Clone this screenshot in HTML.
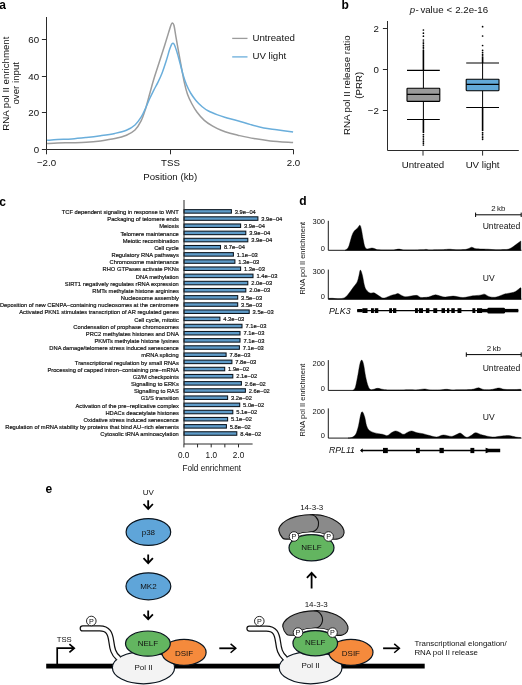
<!DOCTYPE html>
<html lang="en">
<head>
<meta charset="utf-8">
<title>Figure: RNA pol II enrichment after UV light</title>
<style>
html,body{margin:0;padding:0;background:#fff;}
body{width:522px;height:685px;overflow:hidden;}
svg{display:block;font-family:"Liberation Sans", sans-serif;}
</style>
</head>
<body>
<svg width="522" height="685" viewBox="0 0 522 685">
<rect width="522" height="685" fill="#fff"/>
<g id="panel-a">
<text x="-0.70" y="8.60" font-size="12" font-weight="bold" fill="#000">a</text>
<path d="M47.10,143.60C48.83,143.48 53.38,143.05 57.50,142.90C61.62,142.75 67.02,142.80 71.80,142.70C76.58,142.60 81.40,142.60 86.20,142.30C91.00,142.00 95.82,141.52 100.60,140.90C105.38,140.28 110.60,139.55 114.90,138.60C119.20,137.65 123.05,136.63 126.40,135.20C129.75,133.77 132.55,132.38 135.00,130.00C137.45,127.62 139.38,124.28 141.10,120.90C142.82,117.52 143.90,114.10 145.30,109.70C146.70,105.30 148.10,99.53 149.50,94.50C150.90,89.47 152.12,84.75 153.70,79.50C155.28,74.25 157.23,68.48 159.00,63.00C160.77,57.52 162.72,51.62 164.30,46.60C165.88,41.58 167.38,36.50 168.50,32.90C169.62,29.30 170.33,26.65 171.00,25.00C171.67,23.35 172.00,22.92 172.50,23.00C173.00,23.08 173.45,23.32 174.00,25.50C174.55,27.68 175.13,32.23 175.80,36.10C176.47,39.97 177.12,43.78 178.00,48.70C178.88,53.62 180.05,59.98 181.10,65.60C182.15,71.22 183.25,77.67 184.30,82.40C185.35,87.13 186.17,90.48 187.40,94.00C188.63,97.52 190.12,100.50 191.70,103.50C193.28,106.50 194.80,109.18 196.90,112.00C199.00,114.82 201.67,118.03 204.30,120.40C206.93,122.77 209.88,124.55 212.70,126.20C215.52,127.85 218.32,129.12 221.20,130.30C224.08,131.48 227.25,132.48 230.00,133.30C232.75,134.12 233.70,134.32 237.70,135.20C241.70,136.08 248.57,137.65 254.00,138.60C259.43,139.55 263.78,140.25 270.30,140.90C276.82,141.55 289.30,142.23 293.10,142.50" fill="none" stroke="#9c9c9c" stroke-width="1.5" stroke-linejoin="round"/>
<path d="M47.10,140.30C48.83,140.17 53.38,139.73 57.50,139.50C61.62,139.27 67.02,139.23 71.80,138.90C76.58,138.57 81.40,138.03 86.20,137.50C91.00,136.97 95.82,136.38 100.60,135.70C105.38,135.02 110.60,134.30 114.90,133.40C119.20,132.50 123.05,131.70 126.40,130.30C129.75,128.90 132.55,127.18 135.00,125.00C137.45,122.82 139.38,119.92 141.10,117.20C142.82,114.48 143.90,111.73 145.30,108.70C146.70,105.67 148.10,102.07 149.50,99.00C150.90,95.93 152.30,93.07 153.70,90.30C155.10,87.53 156.50,85.28 157.90,82.40C159.30,79.52 160.68,76.68 162.10,73.00C163.52,69.32 165.17,64.17 166.40,60.30C167.63,56.43 168.63,52.47 169.50,49.80C170.37,47.13 171.03,45.40 171.60,44.30C172.17,43.20 172.43,43.13 172.90,43.20C173.37,43.27 173.73,43.25 174.40,44.70C175.07,46.15 175.95,48.77 176.90,51.90C177.85,55.03 179.05,59.63 180.10,63.50C181.15,67.37 182.15,71.60 183.20,75.10C184.25,78.60 185.17,81.52 186.40,84.50C187.63,87.48 189.02,90.35 190.60,93.00C192.18,95.65 193.97,98.12 195.90,100.40C197.83,102.68 200.10,104.93 202.20,106.70C204.30,108.47 206.05,109.68 208.50,111.00C210.95,112.32 214.20,113.57 216.90,114.60C219.60,115.63 221.23,116.18 224.70,117.20C228.17,118.22 233.37,119.47 237.70,120.70C242.03,121.93 246.35,123.40 250.70,124.60C255.05,125.80 259.45,127.03 263.80,127.90C268.15,128.77 271.92,129.10 276.80,129.80C281.68,130.50 290.38,131.72 293.10,132.10" fill="none" stroke="#6aaedb" stroke-width="1.5" stroke-linejoin="round"/>
<path d="M46.5,17.0V149.5H293.5" fill="none" stroke="#2b2b2b" stroke-width="1"/>
<line x1="41.90" y1="149.50" x2="46.50" y2="149.50" stroke="#2b2b2b" stroke-width="1"/>
<text x="39.10" y="153.00" font-size="9.7" text-anchor="end" fill="#111">0</text>
<line x1="41.90" y1="112.50" x2="46.50" y2="112.50" stroke="#2b2b2b" stroke-width="1"/>
<text x="39.10" y="116.00" font-size="9.7" text-anchor="end" fill="#111">20</text>
<line x1="41.90" y1="76.50" x2="46.50" y2="76.50" stroke="#2b2b2b" stroke-width="1"/>
<text x="39.10" y="80.00" font-size="9.7" text-anchor="end" fill="#111">40</text>
<line x1="41.90" y1="39.50" x2="46.50" y2="39.50" stroke="#2b2b2b" stroke-width="1"/>
<text x="39.10" y="43.00" font-size="9.7" text-anchor="end" fill="#111">60</text>
<line x1="46.50" y1="149.50" x2="46.50" y2="154.30" stroke="#2b2b2b" stroke-width="1"/>
<text x="46.50" y="166.20" font-size="9.7" text-anchor="middle" fill="#111">−2.0</text>
<line x1="170.50" y1="149.50" x2="170.50" y2="154.30" stroke="#2b2b2b" stroke-width="1"/>
<text x="170.50" y="166.20" font-size="9.7" text-anchor="middle" fill="#111">TSS</text>
<line x1="293.50" y1="149.50" x2="293.50" y2="154.30" stroke="#2b2b2b" stroke-width="1"/>
<text x="293.50" y="166.20" font-size="9.7" text-anchor="middle" fill="#111">2.0</text>
<text x="170.20" y="179.50" font-size="9.7" text-anchor="middle" fill="#111">Position (kb)</text>
<text x="8.70" y="83.70" font-size="9.7" text-anchor="middle" fill="#111" transform="rotate(-90 8.70 83.70)">RNA pol II enrichment</text>
<text x="19.20" y="83.30" font-size="9.7" text-anchor="middle" fill="#111" transform="rotate(-90 19.20 83.30)">over input</text>
<line x1="232.20" y1="38.40" x2="247.50" y2="38.40" stroke="#9c9c9c" stroke-width="1.3"/>
<line x1="232.20" y1="56.90" x2="247.50" y2="56.90" stroke="#6aaedb" stroke-width="1.3"/>
<text x="252.40" y="40.80" font-size="9.7" fill="#111">Untreated</text>
<text x="252.40" y="59.00" font-size="9.7" fill="#111">UV light</text>
</g>
<g id="panel-b">
<text x="341.50" y="8.60" font-size="12" font-weight="bold" fill="#000">b</text>
<text x="409.80" y="13.40" font-size="9.7" font-style="italic" fill="#111">p</text>
<text x="415.50" y="13.40" font-size="9.7" fill="#111">-</text>
<text x="420.40" y="13.40" font-size="9.7" fill="#111">value</text>
<text x="446.50" y="13.40" font-size="9.7" fill="#111">&lt;</text>
<text x="455.20" y="13.40" font-size="9.7" fill="#111">2.2e-16</text>
<path d="M387.5,21V150.5H518.8" fill="none" stroke="#2b2b2b" stroke-width="1"/>
<line x1="382.90" y1="28.50" x2="387.50" y2="28.50" stroke="#2b2b2b" stroke-width="1"/>
<text x="378.90" y="32.00" font-size="9.7" text-anchor="end" fill="#111">2</text>
<line x1="382.90" y1="69.50" x2="387.50" y2="69.50" stroke="#2b2b2b" stroke-width="1"/>
<text x="378.90" y="73.00" font-size="9.7" text-anchor="end" fill="#111">0</text>
<line x1="382.90" y1="110.50" x2="387.50" y2="110.50" stroke="#2b2b2b" stroke-width="1"/>
<text x="378.90" y="114.00" font-size="9.7" text-anchor="end" fill="#111">−2</text>
<line x1="423.00" y1="150.50" x2="423.00" y2="155.60" stroke="#2b2b2b" stroke-width="1"/>
<text x="423.00" y="168.20" font-size="9.7" text-anchor="middle" fill="#111">Untreated</text>
<line x1="482.60" y1="150.50" x2="482.60" y2="155.60" stroke="#2b2b2b" stroke-width="1"/>
<text x="482.60" y="168.20" font-size="9.7" text-anchor="middle" fill="#111">UV light</text>
<text x="350.20" y="85.20" font-size="9.7" text-anchor="middle" fill="#111" transform="rotate(-90 350.20 85.20)">RNA pol II release ratio</text>
<text x="361.80" y="85.20" font-size="9.7" text-anchor="middle" fill="#111" transform="rotate(-90 361.80 85.20)">(PRR)</text>
<line x1="423.40" y1="70.40" x2="423.40" y2="88.30" stroke="#000" stroke-width="1.0"/>
<line x1="423.40" y1="101.40" x2="423.40" y2="119.50" stroke="#000" stroke-width="1.0"/>
<line x1="423.40" y1="50.00" x2="423.40" y2="70.40" stroke="#000" stroke-width="1.6"/>
<line x1="423.40" y1="119.50" x2="423.40" y2="133.00" stroke="#000" stroke-width="1.6"/>
<circle cx="423.4" cy="30.0" r="0.85" fill="#000"/>
<circle cx="423.4" cy="33.2" r="0.85" fill="#000"/>
<circle cx="423.4" cy="36.2" r="0.85" fill="#000"/>
<circle cx="423.4" cy="40.0" r="0.85" fill="#000"/>
<circle cx="423.4" cy="42.0" r="0.85" fill="#000"/>
<circle cx="423.4" cy="43.7" r="0.85" fill="#000"/>
<circle cx="423.4" cy="45.5" r="0.85" fill="#000"/>
<circle cx="423.4" cy="47.2" r="0.85" fill="#000"/>
<circle cx="423.4" cy="48.8" r="0.85" fill="#000"/>
<circle cx="423.4" cy="134.5" r="0.85" fill="#000"/>
<circle cx="423.4" cy="136.3" r="0.85" fill="#000"/>
<circle cx="423.4" cy="138.0" r="0.85" fill="#000"/>
<circle cx="423.4" cy="139.8" r="0.85" fill="#000"/>
<circle cx="423.4" cy="141.5" r="0.85" fill="#000"/>
<circle cx="423.4" cy="143.2" r="0.85" fill="#000"/>
<circle cx="423.4" cy="145.0" r="0.85" fill="#000"/>
<line x1="407.00" y1="70.40" x2="439.80" y2="70.40" stroke="#000" stroke-width="1.1"/>
<line x1="407.00" y1="119.50" x2="439.80" y2="119.50" stroke="#000" stroke-width="1.1"/>
<rect x="407.0" y="88.3" width="32.8" height="13.1" rx="0.6" fill="#9b9b9b" stroke="#000" stroke-width="1.1"/>
<line x1="407.00" y1="94.40" x2="439.80" y2="94.40" stroke="#000" stroke-width="1.2"/>
<line x1="482.60" y1="63.00" x2="482.60" y2="79.20" stroke="#000" stroke-width="1.0"/>
<line x1="482.60" y1="90.70" x2="482.60" y2="107.50" stroke="#000" stroke-width="1.0"/>
<line x1="482.60" y1="57.00" x2="482.60" y2="63.00" stroke="#000" stroke-width="1.6"/>
<line x1="482.60" y1="107.50" x2="482.60" y2="131.00" stroke="#000" stroke-width="1.6"/>
<circle cx="482.6" cy="26.7" r="0.85" fill="#000"/>
<circle cx="482.6" cy="36.0" r="0.85" fill="#000"/>
<circle cx="482.6" cy="45.5" r="0.85" fill="#000"/>
<circle cx="482.6" cy="50.4" r="0.85" fill="#000"/>
<circle cx="482.6" cy="52.5" r="0.85" fill="#000"/>
<circle cx="482.6" cy="54.4" r="0.85" fill="#000"/>
<circle cx="482.6" cy="55.9" r="0.85" fill="#000"/>
<circle cx="482.6" cy="132.5" r="0.85" fill="#000"/>
<circle cx="482.6" cy="134.2" r="0.85" fill="#000"/>
<circle cx="482.6" cy="136.0" r="0.85" fill="#000"/>
<circle cx="482.6" cy="137.7" r="0.85" fill="#000"/>
<circle cx="482.6" cy="139.3" r="0.85" fill="#000"/>
<line x1="466.20" y1="63.00" x2="499.00" y2="63.00" stroke="#000" stroke-width="1.1"/>
<line x1="466.20" y1="107.50" x2="499.00" y2="107.50" stroke="#000" stroke-width="1.1"/>
<rect x="466.2" y="79.2" width="32.8" height="11.5" rx="0.6" fill="#62a9d8" stroke="#000" stroke-width="1.1"/>
<line x1="466.20" y1="84.40" x2="499.00" y2="84.40" stroke="#000" stroke-width="1.2"/>
</g>
<g id="panel-c">
<text x="-0.70" y="205.60" font-size="12" font-weight="bold" fill="#000">c</text>
<rect x="184.0" y="209.65" width="47.4" height="3.5" fill="#5e9bc8" stroke="#0b141d" stroke-width="1.05"/>
<text x="178.80" y="214.10" font-size="5.78" text-anchor="end" fill="#111" stroke="#111" stroke-width="0.18">TCF dependent signaling in response to WNT</text>
<text x="234.80" y="213.55" font-size="5.78" fill="#111" stroke="#111" stroke-width="0.18">3.9e−04</text>
<rect x="184.0" y="216.81" width="73.9" height="3.5" fill="#5e9bc8" stroke="#0b141d" stroke-width="1.05"/>
<text x="178.80" y="221.26" font-size="5.78" text-anchor="end" fill="#111" stroke="#111" stroke-width="0.18">Packaging of telomere ends</text>
<text x="261.30" y="220.72" font-size="5.78" fill="#111" stroke="#111" stroke-width="0.18">3.9e−04</text>
<rect x="184.0" y="223.98" width="56.6" height="3.5" fill="#5e9bc8" stroke="#0b141d" stroke-width="1.05"/>
<text x="178.80" y="228.43" font-size="5.78" text-anchor="end" fill="#111" stroke="#111" stroke-width="0.18">Meiosis</text>
<text x="244.00" y="227.88" font-size="5.78" fill="#111" stroke="#111" stroke-width="0.18">3.9e−04</text>
<rect x="184.0" y="231.15" width="61.8" height="3.5" fill="#5e9bc8" stroke="#0b141d" stroke-width="1.05"/>
<text x="178.80" y="235.59" font-size="5.78" text-anchor="end" fill="#111" stroke="#111" stroke-width="0.18">Telomere maintenance</text>
<text x="249.20" y="235.05" font-size="5.78" fill="#111" stroke="#111" stroke-width="0.18">3.9e−04</text>
<rect x="184.0" y="238.31" width="63.8" height="3.5" fill="#5e9bc8" stroke="#0b141d" stroke-width="1.05"/>
<text x="178.80" y="242.76" font-size="5.78" text-anchor="end" fill="#111" stroke="#111" stroke-width="0.18">Meiotic recombination</text>
<text x="251.20" y="242.21" font-size="5.78" fill="#111" stroke="#111" stroke-width="0.18">3.9e−04</text>
<rect x="184.0" y="245.48" width="36.5" height="3.5" fill="#5e9bc8" stroke="#0b141d" stroke-width="1.05"/>
<text x="178.80" y="249.93" font-size="5.78" text-anchor="end" fill="#111" stroke="#111" stroke-width="0.18">Cell cycle</text>
<text x="223.90" y="249.38" font-size="5.78" fill="#111" stroke="#111" stroke-width="0.18">8.7e−04</text>
<rect x="184.0" y="252.64" width="49.4" height="3.5" fill="#5e9bc8" stroke="#0b141d" stroke-width="1.05"/>
<text x="178.80" y="257.09" font-size="5.78" text-anchor="end" fill="#111" stroke="#111" stroke-width="0.18">Regulatory RNA pathways</text>
<text x="236.80" y="256.54" font-size="5.78" fill="#111" stroke="#111" stroke-width="0.18">1.1e−03</text>
<rect x="184.0" y="259.81" width="50.9" height="3.5" fill="#5e9bc8" stroke="#0b141d" stroke-width="1.05"/>
<text x="178.80" y="264.25" font-size="5.78" text-anchor="end" fill="#111" stroke="#111" stroke-width="0.18">Chromosome maintenance</text>
<text x="238.30" y="263.70" font-size="5.78" fill="#111" stroke="#111" stroke-width="0.18">1.3e−03</text>
<rect x="184.0" y="266.97" width="56.6" height="3.5" fill="#5e9bc8" stroke="#0b141d" stroke-width="1.05"/>
<text x="178.80" y="271.42" font-size="5.78" text-anchor="end" fill="#111" stroke="#111" stroke-width="0.18">RHO GTPases activate PKNs</text>
<text x="244.00" y="270.87" font-size="5.78" fill="#111" stroke="#111" stroke-width="0.18">1.3e−03</text>
<rect x="184.0" y="274.13" width="69.0" height="3.5" fill="#5e9bc8" stroke="#0b141d" stroke-width="1.05"/>
<text x="178.80" y="278.58" font-size="5.78" text-anchor="end" fill="#111" stroke="#111" stroke-width="0.18">DNA methylation</text>
<text x="256.40" y="278.03" font-size="5.78" fill="#111" stroke="#111" stroke-width="0.18">1.4e−03</text>
<rect x="184.0" y="281.30" width="63.8" height="3.5" fill="#5e9bc8" stroke="#0b141d" stroke-width="1.05"/>
<text x="178.80" y="285.75" font-size="5.78" text-anchor="end" fill="#111" stroke="#111" stroke-width="0.18">SIRT1 negatively regulates rRNA expression</text>
<text x="251.20" y="285.20" font-size="5.78" fill="#111" stroke="#111" stroke-width="0.18">2.0e−03</text>
<rect x="184.0" y="288.47" width="61.8" height="3.5" fill="#5e9bc8" stroke="#0b141d" stroke-width="1.05"/>
<text x="178.80" y="292.92" font-size="5.78" text-anchor="end" fill="#111" stroke="#111" stroke-width="0.18">RMTs methylate histone arginines</text>
<text x="249.20" y="292.37" font-size="5.78" fill="#111" stroke="#111" stroke-width="0.18">2.0e−03</text>
<rect x="184.0" y="295.63" width="53.7" height="3.5" fill="#5e9bc8" stroke="#0b141d" stroke-width="1.05"/>
<text x="178.80" y="300.08" font-size="5.78" text-anchor="end" fill="#111" stroke="#111" stroke-width="0.18">Nucleosome assembly</text>
<text x="241.10" y="299.53" font-size="5.78" fill="#111" stroke="#111" stroke-width="0.18">3.5e−03</text>
<rect x="184.0" y="302.80" width="53.7" height="3.5" fill="#5e9bc8" stroke="#0b141d" stroke-width="1.05"/>
<text x="178.80" y="307.25" font-size="5.78" text-anchor="end" fill="#111" stroke="#111" stroke-width="0.18">Deposition of new CENPA−containing nucleosomes at the centromere</text>
<text x="241.10" y="306.69" font-size="5.78" fill="#111" stroke="#111" stroke-width="0.18">3.5e−03</text>
<rect x="184.0" y="309.96" width="65.2" height="3.5" fill="#5e9bc8" stroke="#0b141d" stroke-width="1.05"/>
<text x="178.80" y="314.41" font-size="5.78" text-anchor="end" fill="#111" stroke="#111" stroke-width="0.18">Activated PKN1 stimulates transcription of AR regulated genes</text>
<text x="252.60" y="313.86" font-size="5.78" fill="#111" stroke="#111" stroke-width="0.18">3.5e−03</text>
<rect x="184.0" y="317.12" width="35.9" height="3.5" fill="#5e9bc8" stroke="#0b141d" stroke-width="1.05"/>
<text x="178.80" y="321.57" font-size="5.78" text-anchor="end" fill="#111" stroke="#111" stroke-width="0.18">Cell cycle, mitotic</text>
<text x="223.30" y="321.02" font-size="5.78" fill="#111" stroke="#111" stroke-width="0.18">4.3e−03</text>
<rect x="184.0" y="324.29" width="58.0" height="3.5" fill="#5e9bc8" stroke="#0b141d" stroke-width="1.05"/>
<text x="178.80" y="328.74" font-size="5.78" text-anchor="end" fill="#111" stroke="#111" stroke-width="0.18">Condensation of prophase chromosomes</text>
<text x="245.40" y="328.19" font-size="5.78" fill="#111" stroke="#111" stroke-width="0.18">7.1e−03</text>
<rect x="184.0" y="331.46" width="56.0" height="3.5" fill="#5e9bc8" stroke="#0b141d" stroke-width="1.05"/>
<text x="178.80" y="335.91" font-size="5.78" text-anchor="end" fill="#111" stroke="#111" stroke-width="0.18">PRC2 methylates histones and DNA</text>
<text x="243.40" y="335.36" font-size="5.78" fill="#111" stroke="#111" stroke-width="0.18">7.1e−03</text>
<rect x="184.0" y="338.62" width="56.0" height="3.5" fill="#5e9bc8" stroke="#0b141d" stroke-width="1.05"/>
<text x="178.80" y="343.07" font-size="5.78" text-anchor="end" fill="#111" stroke="#111" stroke-width="0.18">PKMTs methylate histone lysines</text>
<text x="243.40" y="342.52" font-size="5.78" fill="#111" stroke="#111" stroke-width="0.18">7.1e−03</text>
<rect x="184.0" y="345.78" width="55.4" height="3.5" fill="#5e9bc8" stroke="#0b141d" stroke-width="1.05"/>
<text x="178.80" y="350.23" font-size="5.78" text-anchor="end" fill="#111" stroke="#111" stroke-width="0.18">DNA damage/telomere stress induced senescence</text>
<text x="242.80" y="349.68" font-size="5.78" fill="#111" stroke="#111" stroke-width="0.18">7.1e−03</text>
<rect x="184.0" y="352.95" width="42.1" height="3.5" fill="#5e9bc8" stroke="#0b141d" stroke-width="1.05"/>
<text x="178.80" y="357.40" font-size="5.78" text-anchor="end" fill="#111" stroke="#111" stroke-width="0.18">mRNA splicing</text>
<text x="229.50" y="356.85" font-size="5.78" fill="#111" stroke="#111" stroke-width="0.18">7.8e−03</text>
<rect x="184.0" y="360.12" width="47.9" height="3.5" fill="#5e9bc8" stroke="#0b141d" stroke-width="1.05"/>
<text x="178.80" y="364.56" font-size="5.78" text-anchor="end" fill="#111" stroke="#111" stroke-width="0.18">Transcriptional regulation by small RNAs</text>
<text x="235.30" y="364.01" font-size="5.78" fill="#111" stroke="#111" stroke-width="0.18">7.8e−03</text>
<rect x="184.0" y="367.28" width="40.7" height="3.5" fill="#5e9bc8" stroke="#0b141d" stroke-width="1.05"/>
<text x="178.80" y="371.73" font-size="5.78" text-anchor="end" fill="#111" stroke="#111" stroke-width="0.18">Processing of capped intron−containing pre−mRNA</text>
<text x="228.10" y="371.18" font-size="5.78" fill="#111" stroke="#111" stroke-width="0.18">1.9e−02</text>
<rect x="184.0" y="374.44" width="48.8" height="3.5" fill="#5e9bc8" stroke="#0b141d" stroke-width="1.05"/>
<text x="178.80" y="378.89" font-size="5.78" text-anchor="end" fill="#111" stroke="#111" stroke-width="0.18">G2/M checkpoints</text>
<text x="236.20" y="378.34" font-size="5.78" fill="#111" stroke="#111" stroke-width="0.18">2.1e−02</text>
<rect x="184.0" y="381.61" width="57.4" height="3.5" fill="#5e9bc8" stroke="#0b141d" stroke-width="1.05"/>
<text x="178.80" y="386.06" font-size="5.78" text-anchor="end" fill="#111" stroke="#111" stroke-width="0.18">Signalling to ERKs</text>
<text x="244.80" y="385.51" font-size="5.78" fill="#111" stroke="#111" stroke-width="0.18">2.6e−02</text>
<rect x="184.0" y="388.77" width="61.4" height="3.5" fill="#5e9bc8" stroke="#0b141d" stroke-width="1.05"/>
<text x="178.80" y="393.22" font-size="5.78" text-anchor="end" fill="#111" stroke="#111" stroke-width="0.18">Signalling to RAS</text>
<text x="248.80" y="392.67" font-size="5.78" fill="#111" stroke="#111" stroke-width="0.18">2.6e−02</text>
<rect x="184.0" y="395.94" width="43.6" height="3.5" fill="#5e9bc8" stroke="#0b141d" stroke-width="1.05"/>
<text x="178.80" y="400.39" font-size="5.78" text-anchor="end" fill="#111" stroke="#111" stroke-width="0.18">G1/S transition</text>
<text x="231.00" y="399.84" font-size="5.78" fill="#111" stroke="#111" stroke-width="0.18">3.2e−02</text>
<rect x="184.0" y="403.11" width="55.7" height="3.5" fill="#5e9bc8" stroke="#0b141d" stroke-width="1.05"/>
<text x="178.80" y="407.56" font-size="5.78" text-anchor="end" fill="#111" stroke="#111" stroke-width="0.18">Activation of the pre−replicative complex</text>
<text x="243.10" y="407.00" font-size="5.78" fill="#111" stroke="#111" stroke-width="0.18">5.0e−02</text>
<rect x="184.0" y="410.27" width="48.8" height="3.5" fill="#5e9bc8" stroke="#0b141d" stroke-width="1.05"/>
<text x="178.80" y="414.72" font-size="5.78" text-anchor="end" fill="#111" stroke="#111" stroke-width="0.18">HDACs deacetylate histones</text>
<text x="236.20" y="414.17" font-size="5.78" fill="#111" stroke="#111" stroke-width="0.18">5.1e−02</text>
<rect x="184.0" y="417.44" width="43.6" height="3.5" fill="#5e9bc8" stroke="#0b141d" stroke-width="1.05"/>
<text x="178.80" y="421.88" font-size="5.78" text-anchor="end" fill="#111" stroke="#111" stroke-width="0.18">Oxidative stress induced senescence</text>
<text x="231.00" y="421.33" font-size="5.78" fill="#111" stroke="#111" stroke-width="0.18">5.1e−02</text>
<rect x="184.0" y="424.60" width="42.4" height="3.5" fill="#5e9bc8" stroke="#0b141d" stroke-width="1.05"/>
<text x="178.80" y="429.05" font-size="5.78" text-anchor="end" fill="#111" stroke="#111" stroke-width="0.18">Regulation of mRNA stability by proteins that bind AU−rich elements</text>
<text x="229.80" y="428.50" font-size="5.78" fill="#111" stroke="#111" stroke-width="0.18">5.8e−02</text>
<rect x="184.0" y="431.76" width="52.8" height="3.5" fill="#5e9bc8" stroke="#0b141d" stroke-width="1.05"/>
<text x="178.80" y="436.21" font-size="5.78" text-anchor="end" fill="#111" stroke="#111" stroke-width="0.18">Cytosolic tRNA aminoacylation</text>
<text x="240.20" y="435.66" font-size="5.78" fill="#111" stroke="#111" stroke-width="0.18">8.4e−02</text>
<path d="M184.0,200V444H252.6" fill="none" stroke="#2b2b2b" stroke-width="1"/>
<line x1="183.90" y1="444.00" x2="183.90" y2="447.40" stroke="#2b2b2b" stroke-width="1"/>
<line x1="197.55" y1="444.00" x2="197.55" y2="447.40" stroke="#2b2b2b" stroke-width="1"/>
<line x1="211.20" y1="444.00" x2="211.20" y2="447.40" stroke="#2b2b2b" stroke-width="1"/>
<line x1="224.85" y1="444.00" x2="224.85" y2="447.40" stroke="#2b2b2b" stroke-width="1"/>
<line x1="238.50" y1="444.00" x2="238.50" y2="447.40" stroke="#2b2b2b" stroke-width="1"/>
<text x="183.60" y="458.30" font-size="8.2" text-anchor="middle" fill="#111">0.0</text>
<text x="211.30" y="458.30" font-size="8.2" text-anchor="middle" fill="#111">1.0</text>
<text x="238.50" y="458.30" font-size="8.2" text-anchor="middle" fill="#111">2.0</text>
<text x="211.80" y="471.00" font-size="8.2" text-anchor="middle" fill="#111">Fold enrichment</text>
</g>
<g id="panel-d">
<text x="299.30" y="205.00" font-size="12" font-weight="bold" fill="#000">d</text>
<line x1="475.60" y1="214.80" x2="521.20" y2="214.80" stroke="#000" stroke-width="1"/>
<line x1="475.60" y1="212.60" x2="475.60" y2="217.00" stroke="#000" stroke-width="1"/>
<line x1="521.20" y1="212.60" x2="521.20" y2="217.00" stroke="#000" stroke-width="1"/>
<text x="498.30" y="210.80" font-size="7.9" text-anchor="middle" fill="#111" word-spacing="-0.7">2 kb</text>
<line x1="466.30" y1="354.60" x2="521.20" y2="354.60" stroke="#000" stroke-width="1"/>
<line x1="466.30" y1="352.40" x2="466.30" y2="356.80" stroke="#000" stroke-width="1"/>
<line x1="521.20" y1="352.40" x2="521.20" y2="356.80" stroke="#000" stroke-width="1"/>
<text x="493.90" y="350.60" font-size="7.9" text-anchor="middle" fill="#111" word-spacing="-0.7">2 kb</text>
<text x="304.90" y="258.20" font-size="7.47" text-anchor="middle" fill="#111" transform="rotate(-90 304.90 258.20)">RNA pol II enrichment</text>
<text x="304.90" y="400.10" font-size="7.47" text-anchor="middle" fill="#111" transform="rotate(-90 304.90 400.10)">RNA pol II enrichment</text>
<path d="M345.1,250.3L345.10,250.30C345.42,250.08 346.35,249.77 347.00,249.00C347.65,248.23 348.20,247.87 349.00,245.70C349.80,243.53 350.95,238.40 351.80,236.00C352.65,233.60 353.13,232.63 354.10,231.30C355.07,229.97 356.63,229.02 357.60,228.00C358.57,226.98 359.27,224.97 359.90,225.20C360.53,225.43 360.83,226.93 361.40,229.40C361.97,231.87 362.73,237.13 363.30,240.00C363.87,242.87 364.22,245.10 364.80,246.60C365.38,248.10 366.02,248.67 366.80,249.00C367.58,249.33 368.63,248.77 369.50,248.60C370.37,248.43 371.08,247.97 372.00,248.00C372.92,248.03 374.05,248.50 375.00,248.80C375.95,249.10 376.03,249.60 377.70,249.80C379.37,250.00 382.28,249.98 385.00,250.00C387.72,250.02 391.70,250.05 394.00,249.90C396.30,249.75 397.30,249.10 398.80,249.10C400.30,249.10 400.80,249.75 403.00,249.90C405.20,250.05 408.83,250.02 412.00,250.00C415.17,249.98 419.67,249.90 422.00,249.80C424.33,249.70 424.67,249.38 426.00,249.40C427.33,249.42 427.67,249.83 430.00,249.90C432.33,249.97 437.33,249.88 440.00,249.80C442.67,249.72 444.33,249.50 446.00,249.40C447.67,249.30 448.33,249.13 450.00,249.20C451.67,249.27 453.67,249.73 456.00,249.80C458.33,249.87 462.00,249.77 464.00,249.60C466.00,249.43 466.70,249.20 468.00,248.80C469.30,248.40 470.63,247.23 471.80,247.20C472.97,247.17 473.63,248.30 475.00,248.60C476.37,248.90 477.83,248.90 480.00,249.00C482.17,249.10 485.33,249.07 488.00,249.20C490.67,249.33 493.33,249.73 496.00,249.80C498.67,249.87 501.83,249.73 504.00,249.60C506.17,249.47 507.50,249.47 509.00,249.00C510.50,248.53 511.67,247.67 513.00,246.80C514.33,245.93 515.70,244.77 517.00,243.80C518.30,242.83 520.17,241.47 520.80,241.00L520.8,250.3Z" fill="#000" stroke="#000" stroke-width="0.4" stroke-linejoin="round"/>
<path d="M328.3,220.8V250.3H521.5" fill="none" stroke="#000" stroke-width="0.9"/>
<text x="325.00" y="224.40" font-size="7.5" text-anchor="end" fill="#111">300</text>
<text x="325.00" y="250.70" font-size="7.5" text-anchor="end" fill="#111">0</text>
<text x="520.40" y="228.60" font-size="8.6" text-anchor="end" fill="#111">Untreated</text>
<path d="M328.6,299.2L328.60,298.40C329.28,298.38 331.13,298.23 332.70,298.30C334.27,298.37 336.08,298.87 338.00,298.80C339.92,298.73 342.53,298.62 344.20,297.90C345.87,297.18 346.42,296.35 348.00,294.50C349.58,292.65 352.17,288.88 353.70,286.80C355.23,284.72 356.32,283.88 357.20,282.00C358.08,280.12 358.47,277.50 359.00,275.50C359.53,273.50 359.83,270.03 360.40,270.00C360.97,269.97 361.75,272.82 362.40,275.30C363.05,277.78 363.67,282.50 364.30,284.90C364.93,287.30 365.25,288.35 366.20,289.70C367.15,291.05 368.72,292.48 370.00,293.00C371.28,293.52 372.62,292.47 373.90,292.80C375.18,293.13 376.27,294.15 377.70,295.00C379.13,295.85 381.07,297.50 382.50,297.90C383.93,298.30 384.87,297.82 386.30,297.40C387.73,296.98 389.65,295.87 391.10,295.40C392.55,294.93 393.88,294.92 395.00,294.60C396.12,294.28 396.70,293.37 397.80,293.50C398.90,293.63 400.32,294.85 401.60,295.40C402.88,295.95 403.90,296.70 405.50,296.80C407.10,296.90 409.28,296.23 411.20,296.00C413.12,295.77 415.40,295.17 417.00,295.40C418.60,295.63 419.00,297.12 420.80,297.40C422.60,297.68 426.02,297.33 427.80,297.10C429.58,296.87 430.20,296.38 431.50,296.00C432.80,295.62 434.18,294.80 435.60,294.80C437.02,294.80 438.37,295.62 440.00,296.00C441.63,296.38 443.20,297.08 445.40,297.10C447.60,297.12 450.27,296.03 453.20,296.10C456.13,296.17 459.73,297.55 463.00,297.50C466.27,297.45 469.97,296.18 472.80,295.80C475.63,295.42 478.05,295.47 480.00,295.20C481.95,294.93 482.93,293.95 484.50,294.20C486.07,294.45 487.45,296.22 489.40,296.70C491.35,297.18 493.77,297.52 496.20,297.10C498.63,296.68 501.87,294.85 504.00,294.20C506.13,293.55 507.37,293.53 509.00,293.20C510.63,292.87 512.47,292.65 513.80,292.20C515.13,291.75 515.97,291.20 517.00,290.50C518.03,289.80 519.33,288.42 520.00,288.00C520.67,287.58 520.83,288.00 521.00,288.00L521.0,299.2Z" fill="#000" stroke="#000" stroke-width="0.4" stroke-linejoin="round"/>
<path d="M328.3,269.6V299.2H521.5" fill="none" stroke="#000" stroke-width="0.9"/>
<text x="325.00" y="274.00" font-size="7.5" text-anchor="end" fill="#111">300</text>
<text x="325.00" y="298.80" font-size="7.5" text-anchor="end" fill="#111">0</text>
<text x="494.80" y="281.10" font-size="8.6" text-anchor="end" fill="#111">UV</text>
<path d="M352.8,390.4L352.80,390.30C353.05,390.12 353.82,389.92 354.30,389.20C354.78,388.48 355.08,388.45 355.70,386.00C356.32,383.55 357.30,378.17 358.00,374.50C358.70,370.83 359.27,366.40 359.90,364.00C360.53,361.60 361.17,359.95 361.80,360.10C362.43,360.25 363.07,362.18 363.70,364.90C364.33,367.62 364.87,372.88 365.60,376.40C366.33,379.92 367.27,383.80 368.10,386.00C368.93,388.20 369.62,389.07 370.60,389.60C371.58,390.13 372.82,389.42 374.00,389.20C375.18,388.98 376.37,388.30 377.70,388.30C379.03,388.30 380.40,388.93 382.00,389.20C383.60,389.47 385.13,389.77 387.30,389.90C389.47,390.03 392.22,390.00 395.00,390.00C397.78,390.00 401.50,389.93 404.00,389.90C406.50,389.87 408.00,389.80 410.00,389.80C412.00,389.80 414.20,389.97 416.00,389.90C417.80,389.83 419.30,389.55 420.80,389.40C422.30,389.25 423.47,388.92 425.00,389.00C426.53,389.08 427.50,389.75 430.00,389.90C432.50,390.05 437.27,390.00 440.00,389.90C442.73,389.80 444.40,389.30 446.40,389.30C448.40,389.30 449.40,389.82 452.00,389.90C454.60,389.98 459.00,389.85 462.00,389.80C465.00,389.75 468.00,389.73 470.00,389.60C472.00,389.47 472.57,389.30 474.00,389.00C475.43,388.70 477.10,387.73 478.60,387.80C480.10,387.87 481.10,389.08 483.00,389.40C484.90,389.72 488.17,389.77 490.00,389.70C491.83,389.63 492.50,389.28 494.00,389.00C495.50,388.72 497.33,387.95 499.00,388.00C500.67,388.05 501.83,389.03 504.00,389.30C506.17,389.57 509.20,389.60 512.00,389.60C514.80,389.60 519.33,389.35 520.80,389.30L520.8,390.4Z" fill="#000" stroke="#000" stroke-width="0.4" stroke-linejoin="round"/>
<path d="M328.3,360.1V390.4H521.5" fill="none" stroke="#000" stroke-width="0.9"/>
<text x="325.00" y="366.10" font-size="7.5" text-anchor="end" fill="#111">200</text>
<text x="325.00" y="390.80" font-size="7.5" text-anchor="end" fill="#111">0</text>
<text x="520.40" y="371.10" font-size="8.6" text-anchor="end" fill="#111">Untreated</text>
<path d="M348.0,438.1L348.00,438.00C348.63,437.90 350.52,438.02 351.80,437.40C353.08,436.78 354.58,436.25 355.70,434.30C356.82,432.35 357.65,429.05 358.50,425.70C359.35,422.35 360.13,416.50 360.80,414.20C361.47,411.90 361.85,411.43 362.50,411.90C363.15,412.37 364.02,414.70 364.70,417.00C365.38,419.30 365.82,423.47 366.60,425.70C367.38,427.93 368.03,429.20 369.40,430.40C370.77,431.60 372.62,432.25 374.80,432.90C376.98,433.55 380.42,433.85 382.50,434.30C384.58,434.75 385.87,435.83 387.30,435.60C388.73,435.37 389.73,433.67 391.10,432.90C392.47,432.13 394.07,431.08 395.50,431.00C396.93,430.92 398.37,431.85 399.70,432.40C401.03,432.95 402.22,434.30 403.50,434.30C404.78,434.30 406.05,432.95 407.40,432.40C408.75,431.85 410.00,430.95 411.60,431.00C413.20,431.05 415.10,432.25 417.00,432.70C418.90,433.15 420.87,433.22 423.00,433.70C425.13,434.18 427.53,435.05 429.80,435.60C432.07,436.15 434.33,437.10 436.60,437.00C438.87,436.90 440.95,435.10 443.40,435.00C445.85,434.90 449.20,436.43 451.30,436.40C453.40,436.37 454.55,435.35 456.00,434.80C457.45,434.25 458.83,433.07 460.00,433.10C461.17,433.13 461.85,434.28 463.00,435.00C464.15,435.72 465.43,437.40 466.90,437.40C468.37,437.40 470.33,435.78 471.80,435.00C473.27,434.22 473.92,432.70 475.70,432.70C477.48,432.70 479.73,434.28 482.50,435.00C485.27,435.72 489.05,436.83 492.30,437.00C495.55,437.17 499.23,436.23 502.00,436.00C504.77,435.77 506.62,435.43 508.90,435.60C511.18,435.77 513.75,436.67 515.70,437.00C517.65,437.33 519.78,437.50 520.60,437.60L520.6,438.1Z" fill="#000" stroke="#000" stroke-width="0.4" stroke-linejoin="round"/>
<path d="M328.3,408.4V438.1H521.5" fill="none" stroke="#000" stroke-width="0.9"/>
<text x="325.00" y="413.60" font-size="7.5" text-anchor="end" fill="#111">200</text>
<text x="325.00" y="437.70" font-size="7.5" text-anchor="end" fill="#111">0</text>
<text x="494.80" y="419.90" font-size="8.6" text-anchor="end" fill="#111">UV</text>
<text x="329.00" y="313.50" font-size="8.8" font-style="italic" fill="#111">PLK3</text>
<line x1="357.20" y1="310.60" x2="518.30" y2="310.60" stroke="#000" stroke-width="1.3"/>
<rect x="357.2" y="309.0" width="5.4" height="3.2" fill="#000"/>
<rect x="362.4" y="308.20000000000005" width="5.1" height="4.8" fill="#000"/>
<rect x="371.0" y="308.20000000000005" width="2.9" height="4.8" fill="#000"/>
<rect x="374.8" y="308.20000000000005" width="3.5" height="4.8" fill="#000"/>
<rect x="389.2" y="308.20000000000005" width="2.8" height="4.8" fill="#000"/>
<rect x="393.0" y="308.20000000000005" width="3.3" height="4.8" fill="#000"/>
<rect x="415.0" y="308.20000000000005" width="2.9" height="4.8" fill="#000"/>
<rect x="418.9" y="308.20000000000005" width="4.1" height="4.8" fill="#000"/>
<rect x="425.9" y="308.20000000000005" width="3.5" height="4.8" fill="#000"/>
<rect x="433.3" y="308.20000000000005" width="3.9" height="4.8" fill="#000"/>
<rect x="441.5" y="308.20000000000005" width="3.5" height="4.8" fill="#000"/>
<rect x="447.0" y="308.20000000000005" width="2.3" height="4.8" fill="#000"/>
<rect x="451.3" y="308.20000000000005" width="3.5" height="4.8" fill="#000"/>
<rect x="457.5" y="308.20000000000005" width="3.9" height="4.8" fill="#000"/>
<rect x="472.4" y="308.20000000000005" width="2.9" height="4.8" fill="#000"/>
<rect x="477.0" y="308.20000000000005" width="5.1" height="4.8" fill="#000"/>
<rect x="482" y="308.90000000000003" width="6" height="3.4" fill="#000"/>
<rect x="487.4" y="307.70000000000005" width="17.6" height="5.8" rx="1.2" fill="#000"/>
<rect x="505" y="308.90000000000003" width="13.3" height="3.4" fill="#000"/>
<text x="329.00" y="453.10" font-size="8.7" font-style="italic" fill="#111">RPL11</text>
<line x1="360.80" y1="450.50" x2="500.00" y2="450.50" stroke="#000" stroke-width="1.3"/>
<path d="M360.4,450.5L362.4,448.8V452.2Z" fill="#000" stroke="#000" stroke-width="0.6" stroke-linejoin="round"/>
<rect x="383.0" y="447.9" width="4.8" height="5.2" fill="#000"/>
<rect x="416.0" y="447.9" width="3.8" height="5.2" fill="#000"/>
<rect x="439.5" y="447.9" width="4.3" height="5.2" fill="#000"/>
<rect x="470.4" y="447.9" width="3.9" height="5.2" fill="#000"/>
<path d="M485.6,447.8L488.6,448.8H500.2V452.2H488.6L485.6,453.2Z" fill="#000"/>
</g>
<g id="panel-e">
<text x="45.50" y="493.00" font-size="12" font-weight="bold" fill="#000">e</text>
<text x="148.20" y="495.40" font-size="8.0" text-anchor="middle" fill="#111">UV</text>
<path d="M148.2,500.2V508.5M143.5,504.0L148.2,509.0L152.89999999999998,504.0" fill="none" stroke="#000" stroke-width="1.8" stroke-linejoin="miter"/>
<ellipse cx="148.4" cy="532.0" rx="22.3" ry="13.4" fill="#5fa5d9" stroke="#0a141e" stroke-width="1.2"/>
<text x="148.40" y="534.70" font-size="8.0" text-anchor="middle" fill="#111">p38</text>
<path d="M148.2,554.6V562.6M143.5,558.1L148.2,563.1L152.89999999999998,558.1" fill="none" stroke="#000" stroke-width="1.8" stroke-linejoin="miter"/>
<ellipse cx="148.4" cy="586.3" rx="22.4" ry="13.5" fill="#5fa5d9" stroke="#0a141e" stroke-width="1.2"/>
<text x="148.40" y="588.60" font-size="8.0" text-anchor="middle" fill="#111">MK2</text>
<path d="M148.2,610.4V618.8M143.5,614.3L148.2,619.3L152.89999999999998,614.3" fill="none" stroke="#000" stroke-width="1.8" stroke-linejoin="miter"/>
<rect x="46.2" y="663.7" width="378.5" height="4.8" fill="#000"/>
<path d="M57.2,664V648.2H73.4M69.4,644.1L74.2,648.2L69.4,652.3" fill="none" stroke="#000" stroke-width="1.7"/>
<text x="64.20" y="642.40" font-size="7.75" text-anchor="middle" fill="#111">TSS</text>
<path d="M82.7,628.4H99.7C108.2,628.4 110.2,633.4 111.30000000000001,641.4C112.30000000000001,648.9 113.2,653.4 118.2,657.9" fill="none" stroke="#111" stroke-width="6.2" stroke-linecap="round"/>
<ellipse cx="143.5" cy="667.7" rx="31.1" ry="16.1" fill="#f3f3f3" stroke="#0a141e" stroke-width="1.2"/>
<text x="143.50" y="669.80" font-size="8.0" text-anchor="middle" fill="#111">Pol II</text>
<path d="M82.7,628.4H99.7C108.2,628.4 110.2,633.4 111.30000000000001,641.4C112.30000000000001,648.9 113.2,653.4 118.2,657.9" fill="none" stroke="#fdfdfd" stroke-width="3.7" stroke-linecap="round"/>
<circle cx="91.3" cy="621.0" r="4.8" fill="#fff" stroke="#111" stroke-width="0.9"/>
<text x="91.30" y="623.60" font-size="7.2" text-anchor="middle" fill="#111">P</text>
<ellipse cx="184.0" cy="652.4" rx="22.1" ry="12.95" fill="#f58a3c" stroke="#0a141e" stroke-width="1.2"/>
<text x="184.00" y="656.00" font-size="8.0" text-anchor="middle" fill="#111">DSIF</text>
<ellipse cx="147.9" cy="643.6" rx="22.4" ry="12.6" fill="#63b560" stroke="#0a141e" stroke-width="1.2"/>
<text x="147.90" y="645.70" font-size="8.0" text-anchor="middle" fill="#111">NELF</text>
<path d="M219.3,648.3H235.3" fill="none" stroke="#000" stroke-width="1.8"/>
<path d="M230.60000000000002,643.9L235.8,648.3L230.60000000000002,652.6999999999999" fill="none" stroke="#000" stroke-width="1.5" stroke-linejoin="miter"/>
<path d="M249.4,628.6H266.4C274.9,628.6 276.9,633.6 278.0,641.6C279.0,649.1 279.9,653.6 284.9,658.1" fill="none" stroke="#111" stroke-width="6.2" stroke-linecap="round"/>
<ellipse cx="310.6" cy="667.7" rx="31.4" ry="16.1" fill="#f3f3f3" stroke="#0a141e" stroke-width="1.2"/>
<text x="310.60" y="667.90" font-size="8.0" text-anchor="middle" fill="#111">Pol II</text>
<path d="M249.4,628.6H266.4C274.9,628.6 276.9,633.6 278.0,641.6C279.0,649.1 279.9,653.6 284.9,658.1" fill="none" stroke="#fdfdfd" stroke-width="3.7" stroke-linecap="round"/>
<circle cx="259.3" cy="621.2" r="4.8" fill="#fff" stroke="#111" stroke-width="0.9"/>
<text x="259.30" y="623.80" font-size="7.2" text-anchor="middle" fill="#111">P</text>
<ellipse cx="350.9" cy="652.35" rx="22.1" ry="12.95" fill="#f58a3c" stroke="#0a141e" stroke-width="1.2"/>
<text x="350.90" y="656.00" font-size="8.0" text-anchor="middle" fill="#111">DSIF</text>
<path d="M313.25,611.60C314.75,609.67 318.93,610.95 321.25,611.00C323.57,611.05 324.63,611.23 327.15,611.90C329.67,612.57 333.53,613.60 336.35,615.00C339.17,616.40 342.13,618.38 344.05,620.30C345.97,622.22 347.35,624.58 347.85,626.50C348.35,628.42 347.95,630.40 347.05,631.80C346.15,633.20 344.23,634.33 342.45,634.90C340.67,635.47 338.05,635.42 336.35,635.20C334.65,634.98 334.10,634.53 332.25,633.60C330.40,632.67 327.88,630.53 325.25,629.60C322.62,628.67 318.62,629.17 316.45,628.00C314.28,626.83 312.78,625.33 312.25,622.60C311.72,619.87 311.75,613.53 313.25,611.60Z" fill="#8a8a8a" stroke="#111" stroke-width="1.1" stroke-linejoin="round"/>
<path d="M298.25,634.80C296.58,635.48 293.20,635.32 291.25,635.20C289.30,635.08 287.97,635.55 286.55,634.10C285.13,632.65 283.13,628.53 282.75,626.50C282.37,624.47 282.98,623.57 284.25,621.90C285.52,620.23 287.80,618.03 290.35,616.50C292.90,614.97 296.48,613.60 299.55,612.70C302.62,611.80 305.93,611.37 308.75,611.10C311.57,610.83 314.60,610.77 316.45,611.10C318.30,611.43 318.88,612.07 319.85,613.10C320.82,614.13 321.85,615.83 322.25,617.30C322.65,618.77 322.58,620.50 322.25,621.90C321.92,623.30 321.22,624.68 320.25,625.70C319.28,626.72 318.62,627.45 316.45,628.00C314.28,628.55 309.78,628.48 307.25,629.00C304.72,629.52 302.75,630.13 301.25,631.10C299.75,632.07 299.92,634.12 298.25,634.80Z" fill="#8a8a8a" stroke="#111" stroke-width="1.1" stroke-linejoin="round"/>
<path d="M298.0,632.6Q315.25,625.8000000000001 332.5,632.6" fill="none" stroke="#111" stroke-width="3.4"/>
<path d="M298.0,632.6Q315.25,625.8000000000001 332.5,632.6" fill="none" stroke="#fff" stroke-width="1.8"/>
<ellipse cx="315.25" cy="643.2" rx="22.3" ry="12.65" fill="#63b560" stroke="#0a141e" stroke-width="1.2"/>
<text x="315.25" y="645.40" font-size="8.0" text-anchor="middle" fill="#111">NELF</text>
<circle cx="298.0" cy="632.6" r="4.8" fill="#fff" stroke="#111" stroke-width="0.9"/>
<text x="298.00" y="635.20" font-size="7.2" text-anchor="middle" fill="#111">P</text>
<circle cx="332.5" cy="632.6" r="4.8" fill="#fff" stroke="#111" stroke-width="0.9"/>
<text x="332.50" y="635.20" font-size="7.2" text-anchor="middle" fill="#111">P</text>
<text x="316.20" y="606.60" font-size="8.0" text-anchor="middle" fill="#111">14-3-3</text>
<path d="M311.6,588.6V573.4M306.90000000000003,577.9L311.6,572.9L316.3,577.9" fill="none" stroke="#000" stroke-width="1.8" stroke-linejoin="miter"/>
<path d="M309.30,515.50C310.80,513.57 314.98,514.85 317.30,514.90C319.62,514.95 320.68,515.13 323.20,515.80C325.72,516.47 329.58,517.50 332.40,518.90C335.22,520.30 338.18,522.28 340.10,524.20C342.02,526.12 343.40,528.48 343.90,530.40C344.40,532.32 344.00,534.30 343.10,535.70C342.20,537.10 340.28,538.23 338.50,538.80C336.72,539.37 334.10,539.32 332.40,539.10C330.70,538.88 330.15,538.43 328.30,537.50C326.45,536.57 323.93,534.43 321.30,533.50C318.67,532.57 314.67,533.07 312.50,531.90C310.33,530.73 308.83,529.23 308.30,526.50C307.77,523.77 307.80,517.43 309.30,515.50Z" fill="#8a8a8a" stroke="#111" stroke-width="1.1" stroke-linejoin="round"/>
<path d="M294.30,538.70C292.63,539.38 289.25,539.22 287.30,539.10C285.35,538.98 284.02,539.45 282.60,538.00C281.18,536.55 279.18,532.43 278.80,530.40C278.42,528.37 279.03,527.47 280.30,525.80C281.57,524.13 283.85,521.93 286.40,520.40C288.95,518.87 292.53,517.50 295.60,516.60C298.67,515.70 301.98,515.27 304.80,515.00C307.62,514.73 310.65,514.67 312.50,515.00C314.35,515.33 314.93,515.97 315.90,517.00C316.87,518.03 317.90,519.73 318.30,521.20C318.70,522.67 318.63,524.40 318.30,525.80C317.97,527.20 317.27,528.58 316.30,529.60C315.33,530.62 314.67,531.35 312.50,531.90C310.33,532.45 305.83,532.38 303.30,532.90C300.77,533.42 298.80,534.03 297.30,535.00C295.80,535.97 295.97,538.02 294.30,538.70Z" fill="#8a8a8a" stroke="#111" stroke-width="1.1" stroke-linejoin="round"/>
<path d="M294.05,536.5Q311.3,529.7 328.55,536.5" fill="none" stroke="#111" stroke-width="3.4"/>
<path d="M294.05,536.5Q311.3,529.7 328.55,536.5" fill="none" stroke="#fff" stroke-width="1.8"/>
<ellipse cx="311.5" cy="547.8" rx="22.5" ry="13.05" fill="#63b560" stroke="#0a141e" stroke-width="1.2"/>
<text x="311.50" y="549.80" font-size="8.0" text-anchor="middle" fill="#111">NELF</text>
<circle cx="294.0" cy="536.5" r="4.8" fill="#fff" stroke="#111" stroke-width="0.9"/>
<text x="294.00" y="539.10" font-size="7.2" text-anchor="middle" fill="#111">P</text>
<circle cx="328.6" cy="536.5" r="4.8" fill="#fff" stroke="#111" stroke-width="0.9"/>
<text x="328.60" y="539.10" font-size="7.2" text-anchor="middle" fill="#111">P</text>
<text x="311.70" y="510.30" font-size="8.0" text-anchor="middle" fill="#111">14-3-3</text>
<path d="M383.1,648.3H398.90000000000003" fill="none" stroke="#000" stroke-width="1.8"/>
<path d="M394.20000000000005,643.9L399.40000000000003,648.3L394.20000000000005,652.6999999999999" fill="none" stroke="#000" stroke-width="1.5" stroke-linejoin="miter"/>
<text x="414.40" y="645.50" font-size="7.9" fill="#111">Transcriptional elongation/</text>
<text x="414.40" y="655.40" font-size="7.9" fill="#111">RNA pol II release</text>
</g>
</svg>
</body>
</html>
